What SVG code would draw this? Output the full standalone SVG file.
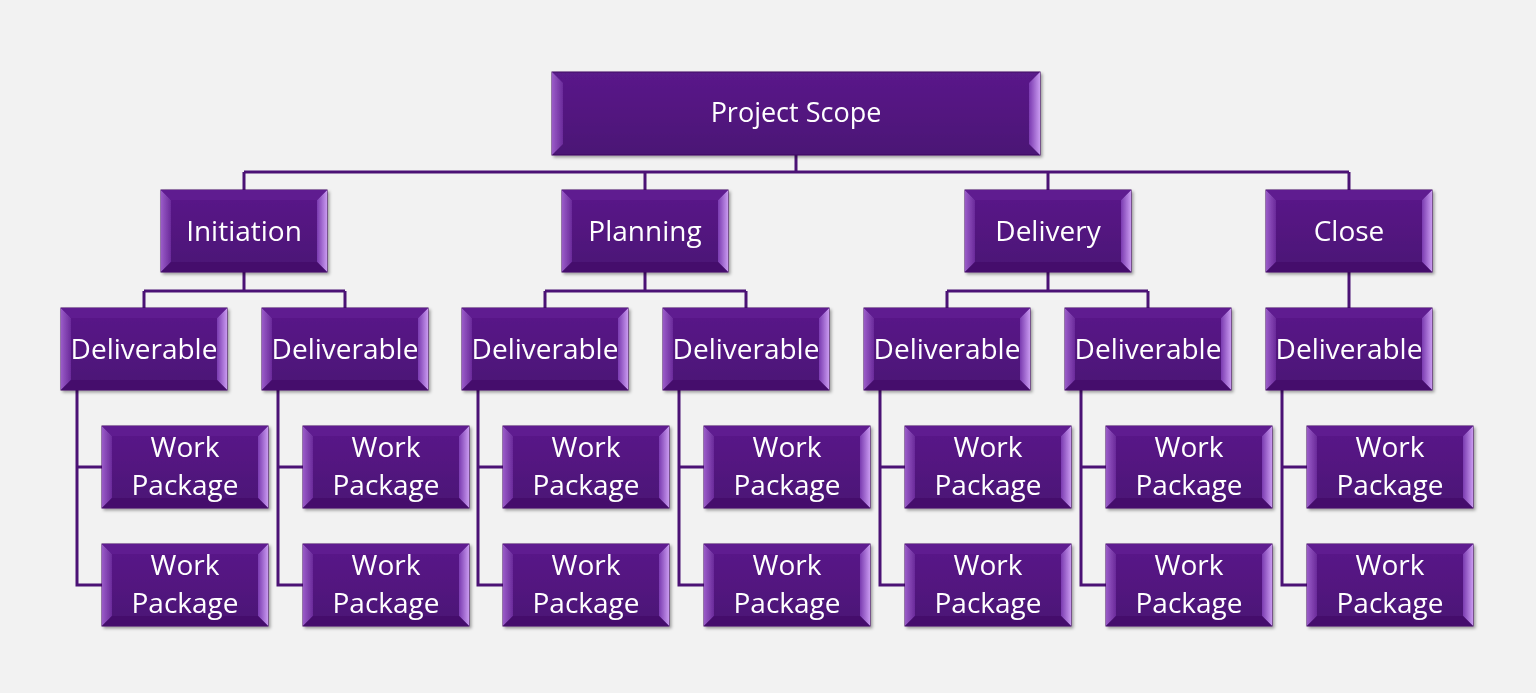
<svg xmlns="http://www.w3.org/2000/svg" width="1536" height="693" viewBox="0 0 1536 693">
<defs>
<linearGradient id="bg" x1="0" y1="0" x2="0" y2="1"><stop offset="0" stop-color="#5a1a8a"/><stop offset="1" stop-color="#4b1275"/></linearGradient>
<linearGradient id="lg" x1="0" y1="0" x2="1" y2="0"><stop offset="0" stop-color="#9a5cc8"/><stop offset="1" stop-color="#6a2a9a"/></linearGradient>
<linearGradient id="rg" x1="0" y1="0" x2="1" y2="0"><stop offset="0" stop-color="#7a3ab0"/><stop offset="1" stop-color="#c99af0"/></linearGradient>
<filter id="sh" x="-10%" y="-10%" width="130%" height="130%"><feDropShadow dx="2" dy="2" stdDeviation="1.5" flood-color="#000" flood-opacity="0.35"/></filter>
<symbol id="b166" viewBox="0 0 166 82" overflow="visible">
<rect x="0" y="0" width="166" height="82" fill="url(#bg)" stroke="#3d0d60" stroke-width="1"/>
<polygon points="0,0 10,10 10,72 0,82" fill="url(#lg)"/>
<polygon points="166,0 156,10 156,72 166,82" fill="url(#rg)"/>
<polygon points="0,0 166,0 156,10 10,10" fill="#5e1c90"/>
<polygon points="0,82 166,82 156,72 10,72" fill="#45106c"/>
</symbol>
</defs>
<style>
.t{font-family:"Open Sans",sans-serif;fill:#fff;text-anchor:middle;font-size:28px}
.c{fill:none;stroke:#4b1275;stroke-width:3}
</style>
<rect width="1536" height="693" fill="#f2f2f2"/>
<g id="connectors" class="c">
<path d="M796,155V172M244,172H1349M244,172V190M645,172V190M1048,172V190M1349,172V190"/>
<path d="M244,272V291M144,291H345M144,291V308M345,291V308"/>
<path d="M645,272V291M545,291H746M545,291V308M746,291V308"/>
<path d="M1048,272V291M947,291H1148M947,291V308M1148,291V308"/>
<path d="M1349,272V308"/>
<path d="M77,390V585H102M77,467H102"/>
<path d="M278,390V585H303M278,467H303"/>
<path d="M478,390V585H503M478,467H503"/>
<path d="M679,390V585H704M679,467H704"/>
<path d="M880,390V585H905M880,467H905"/>
<path d="M1081,390V585H1106M1081,467H1106"/>
<path d="M1282,390V585H1307M1282,467H1307"/>
</g>
<g id="root" filter="url(#sh)">
<rect x="552" y="72" width="488" height="83" fill="url(#bg)" stroke="#3d0d60"/>
<polygon points="552,72 563,83 563,144 552,155" fill="url(#lg)"/>
<polygon points="1040,72 1029,83 1029,144 1040,155" fill="url(#rg)"/>
<text class="t" x="796" y="122" style="font-size:27px">Project Scope</text>
</g>
<g id="initiation" filter="url(#sh)"><use href="#b166" x="161" y="190" width="166" height="82"/><text class="t" x="244" y="241">Initiation</text></g>
<g id="planning" filter="url(#sh)"><use href="#b166" x="562" y="190" width="166" height="82"/><text class="t" x="645" y="241">Planning</text></g>
<g id="delivery" filter="url(#sh)"><use href="#b166" x="965" y="190" width="166" height="82"/><text class="t" x="1048" y="241">Delivery</text></g>
<g id="close" filter="url(#sh)"><use href="#b166" x="1266" y="190" width="166" height="82"/><text class="t" x="1349" y="241">Close</text></g>
<g id="d1" filter="url(#sh)"><use href="#b166" x="61" y="308" width="166" height="82"/><text class="t" x="144" y="359">Deliverable</text></g>
<g id="d2" filter="url(#sh)"><use href="#b166" x="262" y="308" width="166" height="82"/><text class="t" x="345" y="359">Deliverable</text></g>
<g id="d3" filter="url(#sh)"><use href="#b166" x="462" y="308" width="166" height="82"/><text class="t" x="545" y="359">Deliverable</text></g>
<g id="d4" filter="url(#sh)"><use href="#b166" x="663" y="308" width="166" height="82"/><text class="t" x="746" y="359">Deliverable</text></g>
<g id="d5" filter="url(#sh)"><use href="#b166" x="864" y="308" width="166" height="82"/><text class="t" x="947" y="359">Deliverable</text></g>
<g id="d6" filter="url(#sh)"><use href="#b166" x="1065" y="308" width="166" height="82"/><text class="t" x="1148" y="359">Deliverable</text></g>
<g id="d7" filter="url(#sh)"><use href="#b166" x="1266" y="308" width="166" height="82"/><text class="t" x="1349" y="359">Deliverable</text></g>
<g id="w1a" filter="url(#sh)"><use href="#b166" x="102" y="426" width="166" height="82"/><text class="t" x="185" y="457">Work</text><text class="t" x="185" y="495">Package</text></g>
<g id="w1b" filter="url(#sh)"><use href="#b166" x="102" y="544" width="166" height="82"/><text class="t" x="185" y="575">Work</text><text class="t" x="185" y="613">Package</text></g>
<g id="w2a" filter="url(#sh)"><use href="#b166" x="303" y="426" width="166" height="82"/><text class="t" x="386" y="457">Work</text><text class="t" x="386" y="495">Package</text></g>
<g id="w2b" filter="url(#sh)"><use href="#b166" x="303" y="544" width="166" height="82"/><text class="t" x="386" y="575">Work</text><text class="t" x="386" y="613">Package</text></g>
<g id="w3a" filter="url(#sh)"><use href="#b166" x="503" y="426" width="166" height="82"/><text class="t" x="586" y="457">Work</text><text class="t" x="586" y="495">Package</text></g>
<g id="w3b" filter="url(#sh)"><use href="#b166" x="503" y="544" width="166" height="82"/><text class="t" x="586" y="575">Work</text><text class="t" x="586" y="613">Package</text></g>
<g id="w4a" filter="url(#sh)"><use href="#b166" x="704" y="426" width="166" height="82"/><text class="t" x="787" y="457">Work</text><text class="t" x="787" y="495">Package</text></g>
<g id="w4b" filter="url(#sh)"><use href="#b166" x="704" y="544" width="166" height="82"/><text class="t" x="787" y="575">Work</text><text class="t" x="787" y="613">Package</text></g>
<g id="w5a" filter="url(#sh)"><use href="#b166" x="905" y="426" width="166" height="82"/><text class="t" x="988" y="457">Work</text><text class="t" x="988" y="495">Package</text></g>
<g id="w5b" filter="url(#sh)"><use href="#b166" x="905" y="544" width="166" height="82"/><text class="t" x="988" y="575">Work</text><text class="t" x="988" y="613">Package</text></g>
<g id="w6a" filter="url(#sh)"><use href="#b166" x="1106" y="426" width="166" height="82"/><text class="t" x="1189" y="457">Work</text><text class="t" x="1189" y="495">Package</text></g>
<g id="w6b" filter="url(#sh)"><use href="#b166" x="1106" y="544" width="166" height="82"/><text class="t" x="1189" y="575">Work</text><text class="t" x="1189" y="613">Package</text></g>
<g id="w7a" filter="url(#sh)"><use href="#b166" x="1307" y="426" width="166" height="82"/><text class="t" x="1390" y="457">Work</text><text class="t" x="1390" y="495">Package</text></g>
<g id="w7b" filter="url(#sh)"><use href="#b166" x="1307" y="544" width="166" height="82"/><text class="t" x="1390" y="575">Work</text><text class="t" x="1390" y="613">Package</text></g>
</svg>
